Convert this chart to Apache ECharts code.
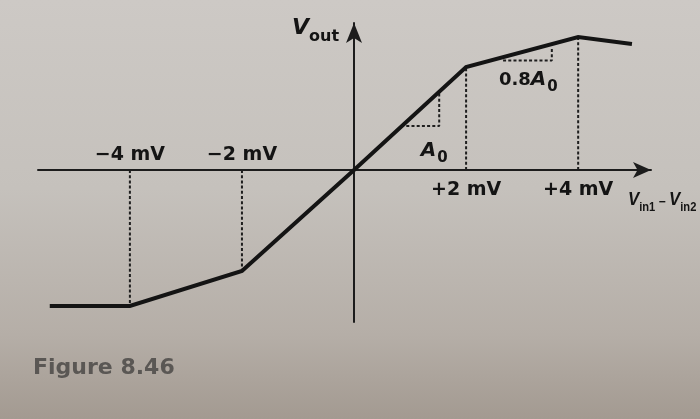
<!DOCTYPE html>
<html>
<head>
<meta charset="utf-8">
<script src="https://cdn.jsdelivr.net/npm/echarts@6/dist/echarts.min.js"></script>
<style>
html,body{margin:0;padding:0;background:#c4c0bb;}
#chart{width:700px;height:419px;}
</style>
</head>
<body>
<div id="chart"></div>
<script>
// ---- data ----
const curveX = [-5.43, -4, -2, 0, 2, 4, 4.96];      // Vin1 - Vin2 (mV)
const curveY = [-2.72, -2.72, -2.02, 0, 2.06, 2.66, 2.52]; // Vout (arbitrary units)
const guideX = [-4, -2, 2, 4];
const guideY = [-2.72, -2.02, 2.06, 2.66];
const tickValues = [-4, -2, 2, 4];
const tickLabels = ['\u22124 mV', '\u22122 mV', '+2 mV', '+4 mV'];
const slopeA0X = [0.84, 1.52, 1.52];
const slopeA0Y = [0.88, 0.88, 1.56];
const slope08X = [2.66, 3.53, 3.53];
const slope08Y = [2.19, 2.19, 2.46];
const annotX = [1.43, 3.11];
const annotY = [0.34, 1.76];
const annotText = ['{i|A}{s|0}', '{b|0.8}{i|A}{s|0}'];

// ---- chart ----
const chart = echarts.init(document.getElementById('chart'));
const ink = '#141414';
const dash = {color: '#1e1e1e', width: 2, type: [3, 2.2]};
const rich = {
  b: {fontFamily: 'DejaVu Sans', fontWeight: 'bold', fontSize: 18, color: ink, verticalAlign: 'bottom', padding: [0, 0, 5, 0]},
  i: {fontFamily: 'DejaVu Sans', fontWeight: 'bold', fontStyle: 'italic', fontSize: 20, color: ink, verticalAlign: 'bottom', padding: [0, 0, 5, 0]},
  s: {fontFamily: 'DejaVu Sans', fontWeight: 'bold', fontSize: 15, color: ink, verticalAlign: 'bottom', padding: [0, 0, 0, 1]}
};
function pairs(xs, ys) { return xs.map((x, i) => [x, ys[i]]); }

const series = [];
guideX.forEach((x, i) => {
  series.push({type: 'line', data: [[x, 0], [x, guideY[i]]], symbol: 'none', lineStyle: dash, silent: true, z: 2});
});
series.push({type: 'line', data: pairs(slopeA0X, slopeA0Y), symbol: 'none', lineStyle: dash, silent: true, z: 2});
series.push({type: 'line', data: pairs(slope08X, slope08Y), symbol: 'none', lineStyle: dash, silent: true, z: 2});
series.push({type: 'line', data: pairs(curveX, curveY), symbol: 'none',
  lineStyle: {color: ink, width: 4, join: 'miter'}, silent: true, z: 5});
series.push({type: 'scatter', symbolSize: 0, silent: true, z: 6, itemStyle: {opacity: 1},
  data: tickValues.map((v, i) => ({value: [v, 0], name: tickLabels[i],
    label: {position: v < 0 ? 'top' : 'bottom', distance: v < 0 ? 5 : 11}})),
  label: {show: true, formatter: p => p.name, fontFamily: 'DejaVu Sans', fontWeight: 'bold',
    fontSize: 19, color: ink, opacity: 1}
});
series.push({type: 'scatter', symbolSize: 0, silent: true, z: 6, itemStyle: {opacity: 1},
  data: annotX.map((x, i) => ({value: [x, annotY[i]], name: annotText[i]})),
  label: {show: true, position: 'inside', formatter: p => p.name, rich: rich, opacity: 1}
});

chart.setOption({
  backgroundColor: {type: 'linear', x: 0, y: 0, x2: 0, y2: 1, colorStops: [
    {offset: 0, color: '#cdc9c5'}, {offset: 0.45, color: '#c5c1bc'},
    {offset: 0.8, color: '#b5aea7'}, {offset: 1, color: '#a39a91'}]},
  animation: false,
  grid: {left: 38, right: 49, top: 23, bottom: 97},
  xAxis: {type: 'value', min: -5.64, max: 5.3,
    axisLine: {show: true, onZero: true, symbol: ['none', 'arrow'], symbolSize: [12, 18],
      lineStyle: {color: '#1c1c1c', width: 2}},
    axisTick: {show: false}, axisLabel: {show: false}, splitLine: {show: false}},
  yAxis: {type: 'value', min: -3.04, max: 2.94,
    axisLine: {show: true, onZero: true, symbol: ['none', 'arrow'], symbolSize: [12, 20],
      lineStyle: {color: '#1c1c1c', width: 2}},
    axisTick: {show: false}, axisLabel: {show: false}, splitLine: {show: false}},
  graphic: [
    {type: 'text', left: 292, top: 17, z: 10, style: {
      text: '{i|V}{s|out}', rich: {
        i: {fontFamily: 'DejaVu Sans', fontWeight: 'bold', fontStyle: 'italic', fontSize: 22, fill: ink, verticalAlign: 'bottom', padding: [0, 0, 6, 0]},
        s: {fontFamily: 'DejaVu Sans', fontWeight: 'bold', fontSize: 16, fill: ink, verticalAlign: 'bottom'}}}},
    {type: 'text', x: 628, y: 191, scaleX: 0.93, z: 10, style: {
      text: '{i|V}{s|in1}{m| \u2212 }{i|V}{s|in2}', rich: {
        i: {fontFamily: 'Liberation Sans', fontWeight: 'bold', fontStyle: 'italic', fontSize: 18, fill: ink, verticalAlign: 'bottom', padding: [0, 0, 5, 0]},
        m: {fontFamily: 'Liberation Sans', fontWeight: 'bold', fontSize: 13, fill: ink, verticalAlign: 'bottom', padding: [0, 0, 5, 0]},
        s: {fontFamily: 'Liberation Sans', fontWeight: 'bold', fontSize: 12, fill: ink, verticalAlign: 'bottom'}}}},
    {type: 'text', left: 33, top: 357, z: 10, style: {
      text: 'Figure 8.46', fontFamily: 'DejaVu Sans', fontWeight: 'bold', fontSize: 22, fill: '#5a5754'}}
  ],
  series: series
});
</script>
</body>
</html>
